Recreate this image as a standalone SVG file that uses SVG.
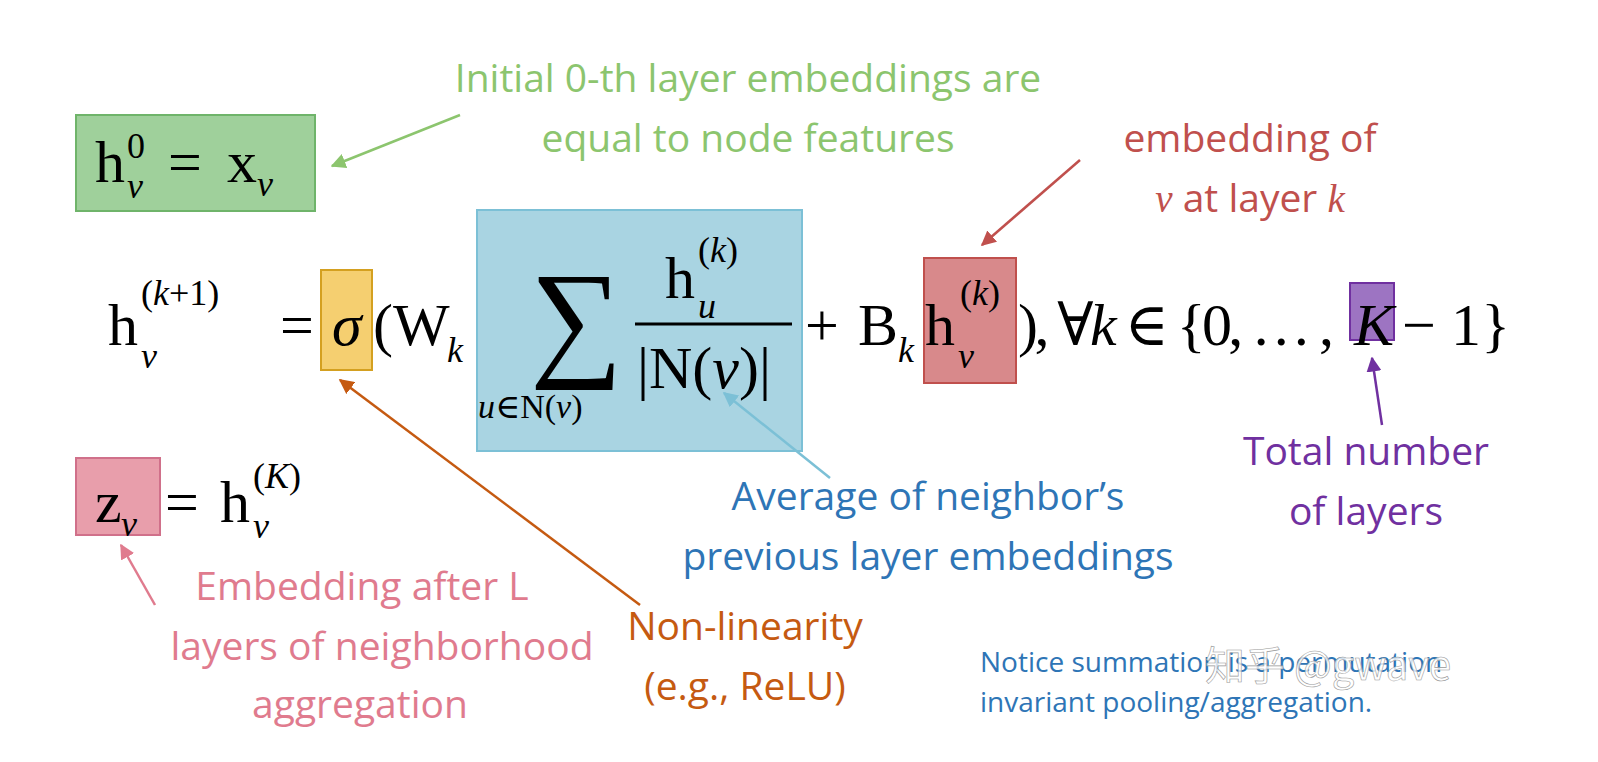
<svg xmlns="http://www.w3.org/2000/svg" width="1598" height="762" viewBox="0 0 1598 762">
<style>
.m{font-family:"Liberation Serif","DejaVu Serif",serif;fill:#000}
.s{font-family:"Open Sans","Liberation Sans",sans-serif;font-size:39px}
.i{font-style:italic}
</style>
<defs>
<marker id="a" viewBox="0 0 10 10" refX="9" refY="5" markerWidth="6" markerHeight="6" orient="auto"><path d="M0,0L10,5L0,10z" fill="context-stroke"/></marker>
</defs>
<rect width="1598" height="762" fill="#fff"/>
<g id="boxes">
<rect x="76" y="115" width="239" height="96" fill="#9fd09b" stroke="#6fb46a" stroke-width="2"/>
<rect x="477" y="210" width="325" height="241" fill="#a9d4e2" stroke="#7cc0d6" stroke-width="2"/>
<rect x="321" y="270" width="51" height="100" fill="#f5cf70" stroke="#d4a020" stroke-width="2"/>
<rect x="924" y="258" width="92" height="125" fill="#d8898b" stroke="#c0504d" stroke-width="2"/>
<rect x="1350" y="283" width="44" height="57" fill="#9d74c2" stroke="#7030a0" stroke-width="2"/>
<rect x="76" y="458" width="84" height="77" fill="#e89eab" stroke="#d0708a" stroke-width="2"/>
</g>
<g id="equations">
<text class="m" font-size="60" x="95" y="182">h</text>
<text class="m" font-size="36" x="127" y="158">0</text>
<text class="m i" font-size="36" x="127" y="198">v</text>
<text class="m" font-size="60" x="168" y="182">=</text>
<text class="m" font-size="60" x="227" y="182">x</text>
<text class="m i" font-size="36" x="257" y="196">v</text>

<text class="m" font-size="60" x="108" y="345">h</text>
<text class="m" font-size="36" x="141" y="305">(<tspan class="i">k</tspan>+1)</text>
<text class="m i" font-size="36" x="141" y="368">v</text>
<text class="m" font-size="60" x="280" y="345">=</text>
<text class="m i" font-size="60" x="332" y="345">σ</text>
<text class="m" font-size="60" x="373" y="345">(W</text>
<text class="m i" font-size="36" x="447" y="362">k</text>
<text class="m" font-size="130" x="530" y="362">∑</text>
<text class="m" font-size="34" x="478" y="418"><tspan class="i">u</tspan>∈N(<tspan class="i">v</tspan>)</text>
<text class="m" font-size="60" x="665" y="298">h</text>
<text class="m" font-size="36" x="698" y="262">(<tspan class="i">k</tspan>)</text>
<text class="m i" font-size="36" x="698" y="318">u</text>
<line x1="635" y1="324" x2="792" y2="324" stroke="#000" stroke-width="3"/>
<text class="m" font-size="60" x="637" y="388">|N(<tspan class="i">v</tspan>)|</text>
<text class="m" font-size="60" x="805" y="345">+</text>
<text class="m" font-size="60" x="858" y="345">B</text>
<text class="m i" font-size="36" x="898" y="362">k</text>
<text class="m" font-size="60" x="925" y="345">h</text>
<text class="m" font-size="36" x="960" y="305">(<tspan class="i">k</tspan>)</text>
<text class="m i" font-size="36" x="958" y="368">v</text>
<text class="m" font-size="60" x="1018" y="345" textLength="316" lengthAdjust="spacing">), ∀<tspan class="i">k</tspan> ∈ {0, … ,</text>
<text class="m i" font-size="60" x="1354" y="345">K</text>
<text class="m" font-size="60" x="1402" y="345" textLength="108" lengthAdjust="spacing">− 1}</text>

<text class="m" font-size="60" x="95" y="522">z</text>
<text class="m i" font-size="36" x="121" y="536">v</text>
<text class="m" font-size="60" x="165" y="522">=</text>
<text class="m" font-size="60" x="220" y="522">h</text>
<text class="m" font-size="36" x="253" y="488">(<tspan class="i">K</tspan>)</text>
<text class="m i" font-size="36" x="253" y="538">v</text>
</g>
<g id="labels" class="s" text-anchor="middle">
<text x="748" y="92" fill="#8cc56e">Initial 0-th layer embeddings are</text>
<text x="748" y="152" fill="#8cc56e">equal to node features</text>
<text x="1250" y="152" fill="#c0504d">embedding of</text>
<text x="1250" y="212" fill="#c0504d"><tspan font-family="Liberation Serif" font-style="italic">v</tspan> at layer <tspan font-family="Liberation Serif" font-style="italic">k</tspan></text>
<text x="928" y="510" fill="#2e75b6">Average of neighbor’s</text>
<text x="928" y="570" fill="#2e75b6">previous layer embeddings</text>
<text x="1366" y="465" fill="#7030a0">Total number</text>
<text x="1366" y="525" fill="#7030a0">of layers</text>
<text x="362" y="600" fill="#e07b8e">Embedding after L</text>
<text x="382" y="660" fill="#e07b8e">layers of neighborhood</text>
<text x="360" y="718" fill="#e07b8e">aggregation</text>
<text x="745" y="640" fill="#c55a11">Non-linearity</text>
<text x="745" y="700" fill="#c55a11">(e.g., ReLU)</text>
</g>
<g id="note" font-family="Open Sans, Liberation Sans, sans-serif" font-size="28" fill="#2e75b6">
<text x="980" y="672">Notice summation is a permutation</text>
<text x="980" y="712">invariant pooling/aggregation.</text>
<text x="1205" y="680" font-family="Noto Sans CJK SC, sans-serif" font-size="40" fill="#ffffff" fill-opacity="0.8" stroke="#999" stroke-width="0.6">知乎 @gwave</text>
</g>
<g id="connectors" stroke-width="2.5" fill="none" marker-end="url(#a)">
<line x1="460" y1="115" x2="332" y2="166" stroke="#8cc56e"/>
<line x1="1080" y1="160" x2="982" y2="245" stroke="#c0504d"/>
<line x1="155" y1="605" x2="121" y2="545" stroke="#e07b8e"/>
<line x1="640" y1="605" x2="340" y2="380" stroke="#c55a11"/>
<line x1="830" y1="478" x2="724" y2="393" stroke="#7cc0d6"/>
<line x1="1382" y1="425" x2="1372" y2="358" stroke="#7030a0"/>
</g>
</svg>
